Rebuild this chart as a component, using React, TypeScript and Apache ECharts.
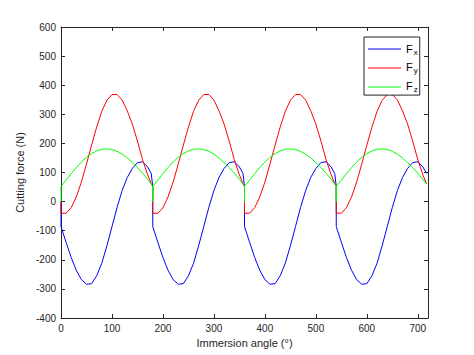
import React, { useEffect, useRef } from "react";
import * as echarts from "echarts";

// One tooth period (0..180 deg); the picture repeats it 4 times.
const periodAngles = [0, 10, 20, 30, 40, 50, 60, 70, 80, 90, 100, 110, 120, 130, 140, 150, 160, 170, 177, 180];
const fxValues = [-86, -140, -192, -236, -268, -284, -282, -255, -212, -152, -86, -20, 38, 83, 114, 134, 137, 119, 97, 52];
const fyValues = [-40, -40, -21, 16, 67, 129, 194, 256, 310, 348, 368, 368, 349, 312, 266, 208, 144, 92, 62, 52];
const fzValues = [52, 74, 96, 117, 136, 152, 165, 174, 180, 181, 179, 173, 163, 150, 134, 117, 98, 77, 60, 52];
const toothPasses = [0, 180, 360, 540];

const seriesNames = ["Fx", "Fy", "Fz"];
const seriesColors = ["#0000ff", "#ff0000", "#00ff00"];
const yTicks = { min: -400, max: 600, step: 100 };
const xTicks = { min: 0, max: 720, step: 100 };

function buildPoints(values: number[]) {
  const pts: number[][] = [];
  toothPasses.forEach((offset, k) => {
    pts.push([offset, 0]);
    periodAngles.forEach((a, i) => {
      if (k === toothPasses.length - 1 && a === 180) return;
      pts.push([offset + a, values[i]]);
    });
  });
  return pts;
}

const axisColor = "#262626";
const font = "'Liberation Sans', Arial, Helvetica, sans-serif";

// legend layout
const legendLeft = 364;
const legendTop = 37;
const legendPadTop = 2;
const legendPadLeft = 3;
const legendRowH = 18;
const legendGap = 1;
const legendIconW = 33;

export default function App() {
  const ref = useRef<HTMLDivElement>(null);
  useEffect(() => {
    if (!ref.current) return;
    const chart = echarts.init(ref.current, null, { renderer: "svg" });
    const lineAxis = { onZero: false, lineStyle: { color: axisColor, width: 1 } };
    const tick = { inside: true, length: 4, lineStyle: { color: axisColor, width: 1 } };
    const legendLines = seriesNames.map((_, i) => {
      const y = legendTop + legendPadTop + legendRowH / 2 + i * (legendRowH + legendGap) + 1;
      return {
        type: "line",
        z: 100,
        shape: {
          x1: legendLeft + legendPadLeft + 1,
          y1: y,
          x2: legendLeft + legendPadLeft + legendIconW + 1,
          y2: y,
        },
        style: { stroke: seriesColors[i], lineWidth: 1.2 },
      };
    });
    const option: any = {
      animation: false,
      backgroundColor: "#ffffff",
      color: seriesColors,
      textStyle: { fontFamily: font },
      grid: { left: 61, right: 46, top: 27, bottom: 37 },
      legend: {
        orient: "vertical",
        left: legendLeft,
        top: legendTop,
        padding: [legendPadTop, 2, 1, legendPadLeft],
        itemGap: legendGap,
        itemWidth: legendIconW,
        itemHeight: legendRowH,
        itemStyle: { opacity: 0 },
        lineStyle: { opacity: 0 },
        borderColor: axisColor,
        borderWidth: 1,
        backgroundColor: "#ffffff",
        data: seriesNames,
        formatter: (name: string) => `{f|F}{s|${name.slice(1)}}`,
        textStyle: {
          fontFamily: font,
          rich: {
            f: { fontSize: 11, lineHeight: 13, verticalAlign: "top", color: "#000", fontFamily: font },
            s: { fontSize: 8, lineHeight: 9, padding: [9, 0, 0, 1], verticalAlign: "bottom", color: "#000", fontFamily: font },
          },
        },
      },
      graphic: legendLines,
      xAxis: [
        {
          type: "value",
          position: "bottom",
          min: xTicks.min,
          max: xTicks.max,
          interval: xTicks.step,
          axisLine: lineAxis,
          axisTick: tick,
          axisLabel: { fontSize: 10, color: axisColor, margin: 5, showMaxLabel: false, fontFamily: font },
          splitLine: { show: false },
          name: "Immersion angle (°)",
          nameLocation: "middle",
          nameGap: 19,
          nameTextStyle: { fontSize: 11, color: axisColor, fontFamily: font },
        },
        {
          type: "value",
          position: "top",
          min: xTicks.min,
          max: xTicks.max,
          interval: xTicks.step,
          axisLine: lineAxis,
          axisTick: tick,
          axisLabel: { show: false },
          splitLine: { show: false },
        },
      ],
      yAxis: [
        {
          type: "value",
          position: "left",
          min: yTicks.min,
          max: yTicks.max,
          interval: yTicks.step,
          axisLine: lineAxis,
          axisTick: tick,
          axisLabel: { fontSize: 10, color: axisColor, margin: 5, fontFamily: font },
          splitLine: { show: false },
          name: "Cutting force (N)",
          nameLocation: "middle",
          nameGap: 29,
          nameTextStyle: { fontSize: 11, color: axisColor, fontFamily: font },
        },
        {
          type: "value",
          position: "right",
          min: yTicks.min,
          max: yTicks.max,
          interval: yTicks.step,
          axisLine: lineAxis,
          axisTick: tick,
          axisLabel: { show: false },
          splitLine: { show: false },
        },
      ],
      series: [fxValues, fyValues, fzValues].map((vals, i) => ({
        name: seriesNames[i],
        type: "line",
        xAxisIndex: 0,
        yAxisIndex: 0,
        data: buildPoints(vals),
        symbol: "none",
        showSymbol: false,
        itemStyle: { color: seriesColors[i] },
        lineStyle: { color: seriesColors[i], width: 1 },
      })),
    };
    chart.setOption(option);
    return () => chart.dispose();
  }, []);
  return (
    <div
      ref={ref}
      style={{ position: "fixed", left: 0, top: 0, width: 474, height: 355, background: "#fff" }}
    />
  );
}
